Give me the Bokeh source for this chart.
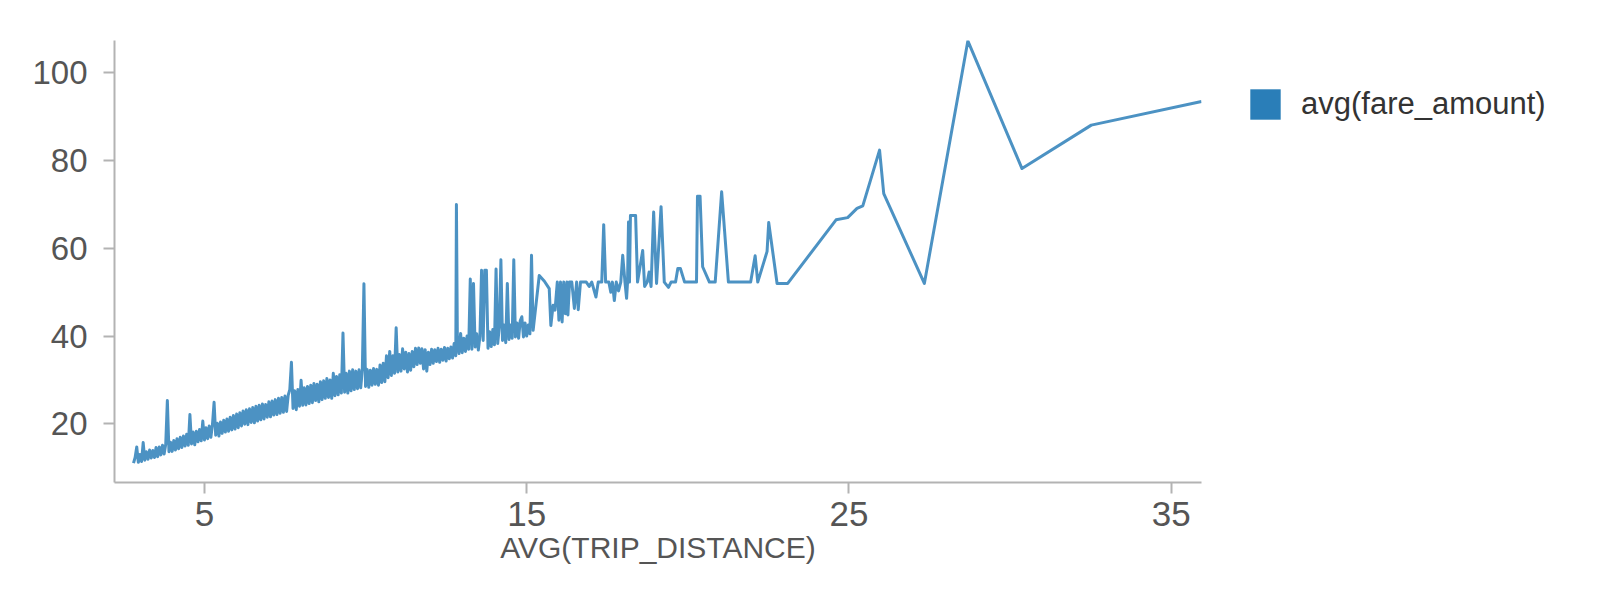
import numpy as np
from bokeh.plotting import figure
from bokeh.models import Range1d, FixedTicker, Legend, LegendItem
from bokeh.embed import file_html
from bokeh.resources import INLINE

# ---- data ----
dist_a = [2.80, 2.85, 2.90, 2.95, 3.00, 3.05, 3.10, 3.15, 3.20, 3.25,
          3.30, 3.35, 3.40, 3.45, 3.50, 3.55, 3.60, 3.65, 3.70, 3.75,
          3.80, 3.85, 3.90, 3.95, 4.00,
          4.05, 4.10, 4.15, 4.20, 4.25, 4.30, 4.35, 4.40, 4.45, 4.50,
          4.55, 4.60, 4.65, 4.70, 4.75, 4.80, 4.85, 4.90, 4.95, 5.00,
          5.05, 5.10, 5.15, 5.20, 5.25, 5.30, 5.35, 5.40, 5.45, 5.50,
          5.55, 5.60, 5.65, 5.70, 5.75, 5.80, 5.85, 5.90, 5.95, 6.00,
          6.05, 6.10, 6.15, 6.20, 6.25, 6.30, 6.35, 6.40, 6.45, 6.50,
          6.55, 6.60, 6.65, 6.70, 6.75, 6.80, 6.85, 6.90, 6.95, 7.00,
          7.05, 7.10, 7.15, 7.20, 7.25, 7.30, 7.35, 7.40, 7.45, 7.50,
          7.55, 7.60, 7.65, 7.70, 7.75, 7.80, 7.85, 7.90, 7.95, 8.00,
          8.05, 8.10, 8.15, 8.20, 8.25, 8.30, 8.35, 8.40, 8.45, 8.50,
          8.55, 8.60]
fare_a = [11.0, 12.3, 14.7, 11.2, 13.0, 11.4, 15.7, 11.7, 13.6, 11.9,
          14.0, 12.2, 13.9, 12.3, 14.6, 12.5, 14.7, 12.9, 15.1, 13.1,
          15.3, 25.3, 13.6, 15.8, 13.7,
          16.2, 14.0, 16.6, 14.3, 16.9, 14.6, 17.2, 14.9, 17.6, 15.1,
          22.1, 15.4, 18.1, 15.2, 18.3, 15.9, 18.7, 16.1, 20.6, 16.3,
          19.1, 16.6, 19.5, 16.9, 19.8, 24.9, 17.4, 20.1, 17.2, 20.4,
          17.8, 20.8, 18.1, 21.1, 18.3, 21.5, 18.6, 21.9, 18.8, 22.2,
          19.1, 22.5, 19.5, 22.9, 19.9, 23.2, 19.8, 23.4, 20.3, 23.7,
          20.2, 24.0, 20.6, 24.2, 20.9, 24.5, 21.1, 24.4, 21.5, 25.0,
          21.6, 25.2, 22.0, 25.5, 22.1, 25.8, 22.4, 26.0, 22.6, 26.3,
          22.8, 26.5, 27.8, 34.0, 23.5, 27.5, 23.2, 27.8, 24.0, 29.9,
          24.2, 28.2, 24.3, 28.5, 24.6, 28.8, 24.8, 29.2, 25.3, 29.0,
          25.0, 29.6]

dist_b = [8.65, 8.70, 8.75, 8.80, 8.85, 8.90, 8.95, 9.00, 9.05, 9.10,
          9.15, 9.20, 9.25, 9.30, 9.35, 9.40, 9.45, 9.50, 9.55, 9.60,
          9.65, 9.70, 9.75, 9.80, 9.85, 9.90, 9.95, 10.00, 10.05, 10.10,
          10.15, 10.20, 10.25, 10.30, 10.35, 10.40, 10.45, 10.50, 10.55, 10.60,
          10.65, 10.70, 10.75, 10.80, 10.85, 10.90, 10.95, 11.00, 11.05, 11.10,
          11.15, 11.20, 11.25, 11.30, 11.35, 11.40, 11.45, 11.50, 11.55, 11.60,
          11.65, 11.70, 11.75, 11.80, 11.85, 11.90, 11.95, 12.00, 12.05, 12.10,
          12.15, 12.20, 12.25, 12.30, 12.35, 12.40, 12.45, 12.50, 12.55, 12.60,
          12.65, 12.70, 12.75, 12.80, 12.82]
fare_b = [25.5, 29.8, 25.8, 30.3, 26.0, 30.0, 25.8, 31.5, 26.4, 30.8,
          26.6, 31.2, 27.0, 40.7, 27.2, 31.5, 27.0, 32.0, 27.5, 32.3,
          27.8, 32.0, 28.0, 32.3, 28.2, 32.3, 51.9, 28.5, 32.4, 28.3,
          32.2, 28.8, 32.6, 29.0, 32.4, 28.8, 33.4, 29.4, 33.8, 29.6,
          35.5, 30.5, 36.5, 31.0, 35.5, 31.5, 41.9, 31.8, 35.8, 32.0,
          37.1, 32.5, 36.3, 31.8, 36.0, 32.2, 36.5, 33.0, 37.2, 33.5,
          37.3, 33.8, 37.1, 32.5, 36.9, 32.0, 36.3, 33.5, 37.0, 33.8,
          36.9, 34.2, 37.2, 34.0, 37.0, 34.5, 37.4, 34.3, 37.2, 34.8,
          37.5, 35.0, 38.3, 35.5, 70.0]

dist_c = [12.85, 12.90, 12.95, 13.00, 13.05, 13.10, 13.15, 13.20, 13.25, 13.30,
          13.35, 13.40, 13.45, 13.50, 13.55, 13.60, 13.65, 13.70, 13.75, 13.80,
          13.85, 13.90, 13.95, 14.00, 14.05, 14.10, 14.15, 14.20, 14.25, 14.30,
          14.35, 14.40, 14.45, 14.50, 14.55, 14.60, 14.65, 14.70, 14.75, 14.80,
          14.85, 14.90, 14.95, 15.00, 15.05, 15.10, 15.15, 15.20]
fare_c = [38.8, 36.0, 40.6, 36.2, 39.5, 36.5, 40.0, 37.0, 53.0, 37.0,
          52.0, 37.5, 40.5, 36.8, 40.0, 55.0, 39.0, 55.0, 55.0, 37.2,
          41.0, 37.6, 41.5, 38.0, 55.3, 38.3, 42.0, 57.4, 39.0, 42.5,
          38.5, 52.0, 39.2, 42.5, 39.5, 57.4, 39.8, 43.0, 39.5, 43.5,
          44.4, 39.8, 43.0, 40.0, 42.5, 40.5, 58.4, 41.3]

dist_d = [15.39, 15.55, 15.70, 15.75, 15.82, 15.88, 15.95, 16.00, 16.05, 16.10,
          16.15, 16.20, 16.25, 16.28, 16.33, 16.40, 16.48, 16.55, 16.60, 16.67,
          16.85, 16.94, 17.02, 17.15, 17.22, 17.33, 17.39, 17.45, 17.55, 17.61,
          17.66, 17.72, 17.78, 17.85, 17.92, 17.98, 18.05, 18.10, 18.13, 18.16,
          18.19, 18.22, 18.38, 18.44, 18.60, 18.66, 18.74, 18.80, 18.86, 18.94,
          19.03, 19.17, 19.27, 19.40, 19.48, 19.62, 19.69, 19.77, 19.85, 19.90,
          20.27, 20.30, 20.38, 20.46, 20.67, 20.85, 21.05, 21.26, 21.95, 22.09,
          22.17, 22.46, 22.51, 22.77, 23.10, 24.60, 24.96, 25.25, 25.43, 25.95,
          26.08, 27.34, 28.69, 30.37, 32.52, 35.94]
fare_d = [53.8, 52.5, 50.8, 42.4, 47.0, 45.9, 52.3, 43.6, 52.3, 43.2,
          52.3, 45.1, 52.3, 44.8, 52.3, 52.3, 46.3, 52.3, 46.0, 52.3,
          52.3, 51.3, 52.3, 48.9, 52.3, 52.3, 65.4, 52.3, 52.3, 50.0,
          52.3, 48.1, 52.3, 50.3, 52.3, 58.4, 52.3, 48.6, 52.3, 66.0,
          52.3, 67.5, 67.5, 52.3, 59.5, 51.3, 52.3, 54.6, 51.3, 68.3,
          52.0, 69.5, 52.3, 51.1, 52.3, 52.3, 55.4, 55.4, 53.5, 52.3,
          52.3, 71.9, 71.9, 55.8, 52.3, 52.3, 72.9, 52.3, 52.3, 58.3,
          52.3, 59.3, 65.9, 52.0, 52.0, 66.5, 67.0, 69.1, 69.7, 82.4,
          72.5, 52.0, 107.3, 78.2, 88.1, 93.5]

x_ticks = [5, 15, 25, 35]
y_ticks = [20, 40, 60, 80, 100]
series_name = "avg(fare_amount)"
x_title = "AVG(TRIP_DISTANCE)"

trip_distance = dist_a + dist_b + dist_c + dist_d
fare_amount = fare_a + fare_b + fare_c + fare_d

FONT = "Liberation Sans"
TEXT = "#555555"
AXIS = "#b3b3b3"
BLUE = "#1f77b4"

p = figure(frame_width=1087, frame_height=442,
           x_range=Range1d(2.21, 35.94), y_range=Range1d(6.6, 107.4),
           output_backend="svg", toolbar_location=None,
           min_border_left=114, min_border_right=6,
           min_border_top=40, min_border_bottom=96)

line = p.line(trip_distance, fare_amount, line_color=BLUE, line_alpha=0.8,
              line_width=3, line_join="round")
# legend swatch proxy (no visible mark in the plot area)
swatch = p.quad(left=np.array([np.nan]), right=np.array([np.nan]),
                top=np.array([np.nan]), bottom=np.array([np.nan]),
                fill_color=BLUE, fill_alpha=0.95, line_color=None)

p.xgrid.visible = False
p.ygrid.visible = False
p.outline_line_color = None
p.background_fill_color = "white"
p.border_fill_color = "white"

for ax in (p.xaxis[0], p.yaxis[0]):
    ax.axis_line_color = AXIS
    ax.axis_line_width = 2
    ax.major_tick_line_color = AXIS
    ax.major_tick_line_width = 2
    ax.major_tick_in = 0
    ax.major_tick_out = 11
    ax.minor_tick_line_color = None
    ax.major_label_text_font = FONT
    ax.major_label_text_color = TEXT

p.xaxis.ticker = FixedTicker(ticks=x_ticks)
p.yaxis.ticker = FixedTicker(ticks=y_ticks)
p.yaxis.major_label_text_font_size = "33px"
p.yaxis.major_label_standoff = 16
p.xaxis.major_label_text_font_size = "35px"
p.xaxis.major_label_standoff = 8
p.xaxis.axis_label = x_title
p.xaxis.axis_label_text_font = FONT
p.xaxis.axis_label_text_font_size = "30px"
p.xaxis.axis_label_text_font_style = "normal"
p.xaxis.axis_label_text_color = TEXT
p.xaxis.axis_label_standoff = 2

legend = Legend(items=[LegendItem(label=series_name, renderers=[swatch])],
                location="top_left", orientation="vertical")
legend.border_line_color = None
legend.background_fill_alpha = 0
legend.margin = 45
legend.padding = 6
legend.glyph_width = 38
legend.glyph_height = 38
legend.label_standoff = 17
legend.label_text_font = FONT
legend.label_text_font_size = "31px"
legend.label_text_color = "#333333"
p.add_layout(legend, "right")

open("out.html", "w").write(file_html(p, INLINE))
